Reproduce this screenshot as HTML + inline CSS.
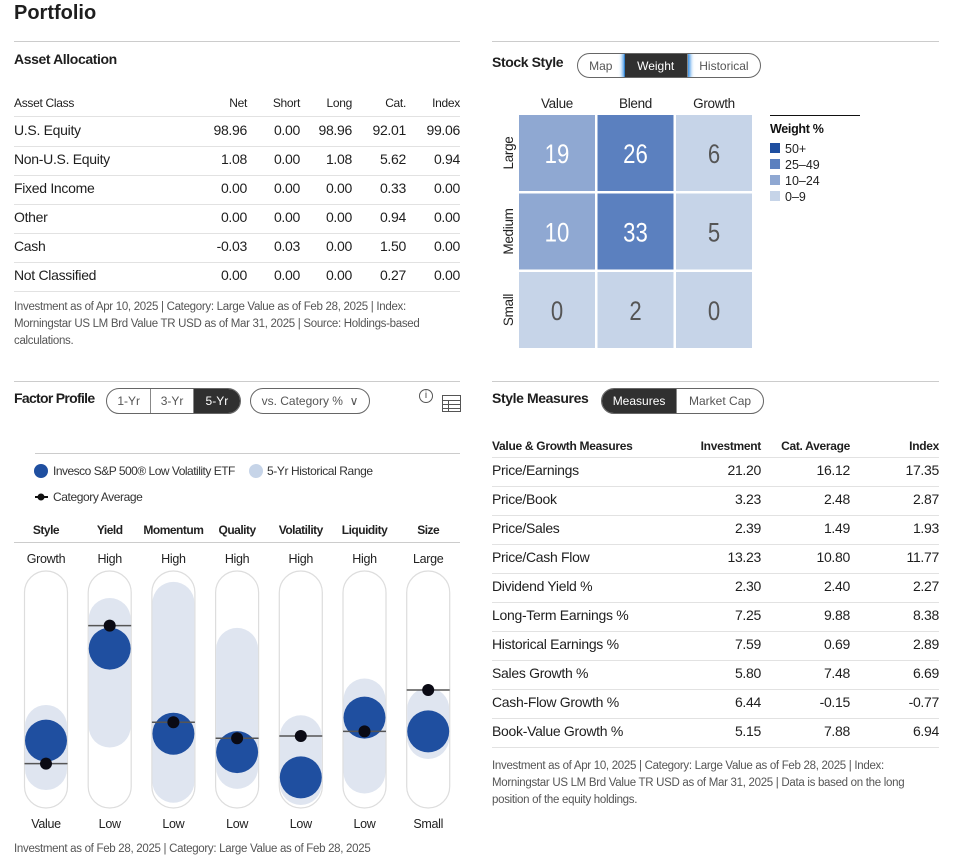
<!DOCTYPE html>
<html><head><meta charset="utf-8">
<style>
*{margin:0;padding:0;box-sizing:border-box}
body{width:953px;height:868px;background:#fff;position:relative;overflow:hidden;font-family:"Liberation Sans",sans-serif;color:#1e1e1e}
.a{position:absolute;white-space:nowrap}
.b{font-weight:bold}
.hr{position:absolute;height:1px;background:#ccc}
.rl{position:absolute;height:1px;background:#e2e2e2}
.fn{position:absolute;font-size:11.5px;letter-spacing:-0.3px;color:#555;line-height:17px;white-space:nowrap}
.pill{position:absolute;border:1px solid #666;border-radius:13px;overflow:hidden;display:flex;font-size:12px;color:#555}
.pill div{display:flex;align-items:center;justify-content:center;border-right:1px solid #888}
.pill div:last-child{border-right:none}
.pill .on{background:#303030;color:#fff}
.t{font-size:14px;letter-spacing:-0.4px}
</style></head><body>
<div class="a b" style="left:14px;top:2px;font-size:20px">Portfolio</div>
<div class="hr" style="left:14px;top:41px;width:446px"></div>
<div class="hr" style="left:492px;top:41px;width:447px"></div>
<div class="a b t" style="left:14px;top:51px">Asset Allocation</div>
<div id="aa"></div>
<div class="fn" style="left:14px;top:299px">Investment as of Apr 10, 2025 | Category: Large Value as of Feb 28, 2025 | Index:<br>Morningstar US LM Brd Value TR USD as of Mar 31, 2025 | Source: Holdings-based<br>calculations.</div>

<div class="a b t" style="left:492px;top:54px">Stock Style</div>
<div class="pill" style="left:577px;top:53px;width:184px;height:25px">
<div style="width:47px">Map</div>
<div class="on" style="width:64px;box-shadow:0 0 4px 2px #1a7fe0">Weight</div>
<div style="width:73px">Historical</div></div>
<svg class="a" style="left:0;top:0" width="953" height="380" id="ss"></svg>

<div class="hr" style="left:14px;top:381px;width:446px"></div>
<div class="hr" style="left:492px;top:381px;width:447px"></div>
<div class="a b t" style="left:14px;top:390px;letter-spacing:-0.7px">Factor Profile</div>
<div class="pill" style="left:106px;top:388px;width:135px;height:26px">
<div style="width:45px">1-Yr</div>
<div style="width:43px">3-Yr</div>
<div class="on" style="width:47px">5-Yr</div></div>
<div class="pill" style="left:250px;top:388px;width:120px;height:26px;justify-content:center;align-items:center">vs. Category %&nbsp; &#x2228;</div>
<div class="a" style="left:419px;top:389px;width:14px;height:14px;border:1px solid #555;border-radius:50%;font-size:10px;text-align:center;line-height:12px;color:#444">i</div>
<svg class="a" style="left:442px;top:395px" width="19" height="18"><rect x="0.5" y="0.5" width="18" height="16" fill="none" stroke="#555"/><path d="M0 5.5H19M0 9.5H19M0 13.5H19M6.5 5V17" stroke="#555"/></svg>
<div class="hr" style="left:35px;top:453px;width:425px"></div>
<svg class="a" style="left:0;top:440px" width="470" height="420" id="fp"></svg>
<div class="fn" style="left:14px;top:841px">Investment as of Feb 28, 2025 | Category: Large Value as of Feb 28, 2025</div>

<div class="a b t" style="left:492px;top:390px">Style Measures</div>
<div class="pill" style="left:601px;top:388px;width:163px;height:26px">
<div class="on" style="width:76px">Measures</div>
<div style="width:87px">Market Cap</div></div>
<div id="sm"></div>
<div class="fn" style="left:492px;top:758px">Investment as of Apr 10, 2025 | Category: Large Value as of Feb 28, 2025 | Index:<br>Morningstar US LM Brd Value TR USD as of Mar 31, 2025 | Data is based on the long<br>position of the equity holdings.</div>

<script>
// ---- Asset allocation data
const aaHead=["Asset Class","Net","Short","Long","Cat.","Index"];
const aaRows=["U.S. Equity","Non-U.S. Equity","Fixed Income","Other","Cash","Not Classified"];
const aaVals=[["98.96","0.00","98.96","92.01","99.06"],["1.08","0.00","1.08","5.62","0.94"],["0.00","0.00","0.00","0.33","0.00"],["0.00","0.00","0.00","0.94","0.00"],["-0.03","0.03","0.00","1.50","0.00"],["0.00","0.00","0.00","0.27","0.00"]];
// ---- Style measures data
const smHead=["Value & Growth Measures","Investment","Cat. Average","Index"];
const smRows=["Price/Earnings","Price/Book","Price/Sales","Price/Cash Flow","Dividend Yield %","Long-Term Earnings %","Historical Earnings %","Sales Growth %","Cash-Flow Growth %","Book-Value Growth %"];
const smVals=[["21.20","16.12","17.35"],["3.23","2.48","2.87"],["2.39","1.49","1.93"],["13.23","10.80","11.77"],["2.30","2.40","2.27"],["7.25","9.88","8.38"],["7.59","0.69","2.89"],["5.80","7.48","6.69"],["6.44","-0.15","-0.77"],["5.15","7.88","6.94"]];
// ---- Style box data
const ssCols=["Value","Blend","Growth"];
const ssRowsL=["Large","Medium","Small"];
const ssWeights=[[19,26,6],[10,33,5],[0,2,0]];
const ssLegend=["50+","25\u201349","10\u201324","0\u20139"];
// ---- Factor profile data (percentile 0-100)
const fpFactors=["Style","Yield","Momentum","Quality","Volatility","Liquidity","Size"];
const fpTop=["Growth","High","High","High","High","High","Large"];
const fpBottom=["Value","Low","Low","Low","Low","Low","Small"];
const fpRangeLo=[6.5,25,1,7,0,5,20];
const fpRangeHi=[43.5,90,97,77,39,55,51];
const fpFund=[28,68,31,23,12,38,32];
const fpCatAvg=[18,78,36,29,30,32,50];

function mk(parent,tag,name,css,txt){const e=document.createElement(tag);


e.className='a';e.style.cssText=css;if(txt!==undefined)e.textContent=txt;parent.appendChild(e);return e;}
function line(parent,x,y,w,cls){const e=document.createElement('div');e.className=cls;e.style.left=x+'px';e.style.top=y+'px';e.style.width=w+'px';parent.appendChild(e);}

const RS='font-size:14px;letter-spacing:-0.3px;';
const aa=document.getElementById('aa');
const aaX=[247,300,352,406,460];
mk(aa,'div','table-header','left:14px;top:96px;font-size:12px;letter-spacing:-0.3px',aaHead[0]);
aaX.forEach((x,i)=>mk(aa,'div','table-header','right:'+(953-x)+'px;top:96px;font-size:12px;letter-spacing:-0.3px',aaHead[i+1]));
aaRows.forEach((r,j)=>{const y=122+j*29;
 mk(aa,'div','row-label','left:14px;top:'+y+'px;'+RS,r);
 aaVals[j].forEach((v,i)=>mk(aa,'div','row-value','right:'+(953-aaX[i])+'px;top:'+y+'px;'+RS,v));
 line(aa,14,y+24,446,'rl');
});
line(aa,14,116,446,'rl');

const sm=document.getElementById('sm');
const smX=[761,850,939];
mk(sm,'div','table-header','left:492px;top:439px;font-size:12px;letter-spacing:-0.3px;font-weight:bold',smHead[0]);
smX.forEach((x,i)=>mk(sm,'div','table-header','right:'+(953-x)+'px;top:439px;font-size:12px;letter-spacing:-0.3px;font-weight:bold',smHead[i+1]));
smRows.forEach((r,j)=>{const y=462+j*29;
 mk(sm,'div','row-label','left:492px;top:'+y+'px;'+RS,r);
 smVals[j].forEach((v,i)=>mk(sm,'div','row-value','right:'+(953-smX[i])+'px;top:'+y+'px;'+RS,v));
 line(sm,492,y+24,447,'rl');
});
line(sm,492,457,447,'rl');

const NS='http://www.w3.org/2000/svg';
function s(p,tag,attrs,txt){const e=document.createElementNS(NS,tag);for(const k in attrs)e.setAttribute(k,attrs[k]);if(txt!==undefined)e.textContent=txt;p.appendChild(e);return e;}
const FF='"Liberation Sans",sans-serif';
function colorFor(w){return w>=50?'#1f4fa0':w>=25?'#5b80bf':w>=10?'#8fa8d2':'#c6d4e8';}

const ss=document.getElementById('ss');
const cx0=519,cy0=115,cw=76,gap=2.5;
ssCols.forEach((c,i)=>{const t=s(ss,'text',{x:cx0+i*(cw+gap)+cw/2,y:108,'text-anchor':'middle','font-size':13.5,'letter-spacing':-0.3,'font-family':FF,fill:'#222'},c);

});
ssRowsL.forEach((r,j)=>{const yc=cy0+j*(cw+gap)+cw/2;const t=s(ss,'text',{x:0,y:0,transform:'translate(513,'+yc+') rotate(-90)','text-anchor':'middle','font-size':13.5,'letter-spacing':-0.3,'font-family':FF,fill:'#222'},r);

});
ssWeights.forEach((row,j)=>row.forEach((w,i)=>{const x=cx0+i*(cw+gap),y=cy0+j*(cw+gap);
 const r=s(ss,'rect',{x:x,y:y,width:cw,height:cw,fill:colorFor(w)});
 
 
 const t=s(ss,'text',{x:x+cw/2,y:y+cw/2+10,'text-anchor':'middle','font-size':27,'font-family':FF,fill:w>=10?'#fff':'#555',transform:'translate('+(x+cw/2)+',0) scale(0.82,1) translate('+(-(x+cw/2))+',0)'},String(w));
 
 
}));
s(ss,'line',{x1:770,x2:860,y1:115.5,y2:115.5,stroke:'#111'});
const lt=s(ss,'text',{x:770,y:133,'font-size':12.5,'font-weight':'bold','letter-spacing':-0.3,'font-family':FF,fill:'#111'},'Weight %');


const lc=[60,30,15,5];
ssLegend.forEach((l,i)=>{const y=143+i*16;
 s(ss,'rect',{x:770,y:y,width:10,height:10,fill:colorFor(lc[i])});
 const t=s(ss,'text',{x:785,y:y+10,'font-size':12.5,'font-family':FF,fill:'#222'},l);
 
 });

const fp=document.getElementById('fp');
const OY=440;
const yv=v=>805-v*2.3-OY;
const xc=i=>46+i*63.7;
s(fp,'circle',{cx:41,cy:471-OY,r:7,fill:'#1f4fa0'});
s(fp,'text',{x:53,y:475-OY,'font-size':12,'letter-spacing':-0.5,'font-family':FF,fill:'#333'},'Invesco S&P 500\u00ae Low Volatility ETF');
s(fp,'circle',{cx:256,cy:471-OY,r:7,fill:'#c6d4e8'});
s(fp,'text',{x:267,y:475-OY,'font-size':12,'letter-spacing':-0.4,'font-family':FF,fill:'#333'},'5-Yr Historical Range');
s(fp,'line',{x1:35,x2:48,y1:497-OY,y2:497-OY,stroke:'#111','stroke-width':2});
s(fp,'circle',{cx:41,cy:497-OY,r:3.5,fill:'#111'});
s(fp,'text',{x:53,y:501-OY,'font-size':12,'letter-spacing':-0.4,'font-family':FF,fill:'#333'},'Category Average');
s(fp,'line',{x1:14,x2:460,y1:542.5-OY,y2:542.5-OY,stroke:'#ccc'});
fpFactors.forEach((f,i)=>{const x=xc(i);
 const h=s(fp,'text',{x:x,y:534-OY,'text-anchor':'middle','font-size':12,'letter-spacing':-0.5,'font-weight':'bold','font-family':FF,fill:'#222'},f);
 
 
 s(fp,'text',{x:x,y:563-OY,'text-anchor':'middle','font-size':12.5,'letter-spacing':-0.3,'font-family':FF,fill:'#222'},fpTop[i]);
 s(fp,'text',{x:x,y:828-OY,'text-anchor':'middle','font-size':12.5,'letter-spacing':-0.3,'font-family':FF,fill:'#222'},fpBottom[i]);
 s(fp,'rect',{x:x-21.5,y:571-OY,width:43,height:237,rx:21.5,fill:'#fff',stroke:'#ddd','stroke-width':1.2});
 const yt=Math.max(yv(fpRangeHi[i]),572-OY),yb=Math.min(yv(fpRangeLo[i]),807-OY);
 const rg=s(fp,'rect',{x:x-21,y:yt,width:42,height:yb-yt,rx:21,fill:'#dfe5f0'});
 
 
 const d=s(fp,'circle',{cx:x,cy:yv(fpFund[i]),r:21,fill:'#1f4fa0'});
 
 
 s(fp,'line',{x1:x-21.5,x2:x+21.5,y1:yv(fpCatAvg[i]),y2:yv(fpCatAvg[i]),stroke:'#555','stroke-width':1.5});
 const a=s(fp,'circle',{cx:x,cy:yv(fpCatAvg[i]),r:6,fill:'#0a0a14'});
 
 
});
</script>
</body></html>
